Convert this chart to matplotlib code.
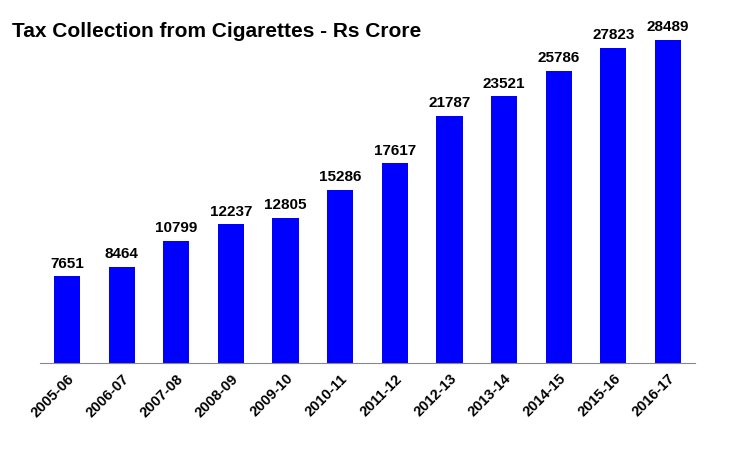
import matplotlib
matplotlib.use("Agg")
import matplotlib.pyplot as plt

years = ["2005-06","2006-07","2007-08","2008-09","2009-10","2010-11","2011-12",
         "2012-13","2013-14","2014-15","2015-16","2016-17"]
values = [7651,8464,10799,12237,12805,15286,17617,21787,23521,25786,27823,28489]

plt.rcParams['font.family'] = ['Liberation Sans', 'DejaVu Sans']
fig = plt.figure(figsize=(7.5,4.5), dpi=100)
ax = fig.add_axes([0.053, 0.193, 0.874, 0.718])
x = range(len(years))
ax.bar(x, values, width=0.48, color='#0000FF')
for i, v in zip(x, values):
    ax.text(i, v + 500, str(v), ha='center', va='bottom', fontsize=11, fontweight='bold')
ax.set_xlim(-0.5, len(years)-0.5)
ax.set_ylim(0, 28489)
ax.set_xticks(list(x))
ax.set_xticklabels(years, rotation=45, ha='right', rotation_mode='anchor', fontsize=10.5, fontweight='bold')
ax.tick_params(axis='x', length=0, pad=6)
ax.set_yticks([])
for s in ['top','right','left']:
    ax.spines[s].set_visible(False)
ax.spines['bottom'].set_color('#888888')
fig.text(0.016, 0.93, "Tax Collection from Cigarettes - Rs Crore", fontsize=15, fontweight='bold', va='center')
fig.savefig("out.png", dpi=100)
